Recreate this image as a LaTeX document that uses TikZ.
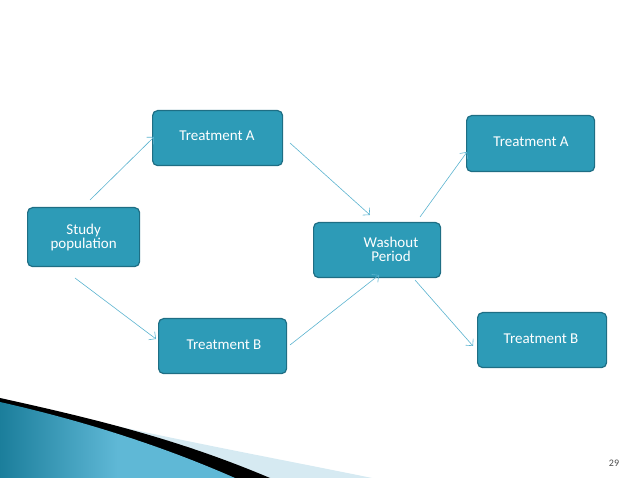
\documentclass[tikz,border=0pt]{standalone}
\usepackage{fontspec}
\usetikzlibrary{arrows.meta}
\setmainfont{Carlito}
\begin{document}
\begin{tikzpicture}[x=1pt,y=-1pt,
 box/.style={draw=boxedge,line width=1.2pt,fill=boxfill,rounded corners=5pt,text=white,font=\fontsize{15}{16}\selectfont,align=center,anchor=north west},
 conn/.style={draw=arrowc,line width=0.6pt,-{Straight Barb[length=5pt]}}]
\definecolor{boxfill}{HTML}{2D9BB7}
\definecolor{boxedge}{HTML}{1E6E84}
\definecolor{arrowc}{HTML}{5BB3CF}
\definecolor{teal}{HTML}{1B7E9B}
\definecolor{lteal}{HTML}{5FB8D6}
\definecolor{pale}{HTML}{D6EAF2}
\useasboundingbox (0,0) rectangle (638,478);
% bottom decoration
\fill[pale] (0,398) .. controls (120,430) and (260,455) .. (372,478) -- (0,478) -- cycle;
\fill[black] (0,398) .. controls (100,420) and (180,440) .. (270,478) -- (0,478) -- cycle;
\shade[left color=teal,right color=lteal,middle color=lteal] (0,402) .. controls (80,420) and (160,445) .. (235,478) -- (0,478) -- cycle;
% boxes
\node[box,minimum width=112pt,minimum height=59pt] (sp) at (27,207) {Study\\[-2pt]population};
\node[box,minimum width=130pt,minimum height=55pt] (ta1) at (152,110) {};
\node[text=white,font=\fontsize{15}{16}\selectfont] (ta1t) at (217,136) {Treatment A};
\node[box,minimum width=128pt,minimum height=55pt] (tb1) at (158,318) {};
\node[text=white,font=\fontsize{15}{16}\selectfont] (tb1t) at (224,345) {Treatment B};
\node[box,minimum width=127pt,minimum height=55pt] (wp) at (313,222) {};
\node[text=white,font=\fontsize{15}{16}\selectfont,align=center] (wpt) at (391,249) {Washout\\[-2pt]Period};
\node[box,minimum width=128pt,minimum height=56pt] (ta2) at (466,115) {};
\node[text=white,font=\fontsize{15}{16}\selectfont] (ta2t) at (531,142) {Treatment A};
\node[box,minimum width=129pt,minimum height=55pt] (tb2) at (477,312) {};
\node[text=white,font=\fontsize{15}{16}\selectfont] (tb2t) at (541,339) {Treatment B};
% connector endpoints
\coordinate (a1) at (90,200); \coordinate (a2) at (154,137);
\coordinate (b1) at (75,278); \coordinate (b2) at (156,339);
\coordinate (c1) at (290,143); \coordinate (c2) at (370,215);
\coordinate (d1) at (290,345); \coordinate (d2) at (379,275);
\coordinate (e1) at (420,217); \coordinate (e2) at (467,152);
\coordinate (f1) at (415,280); \coordinate (f2) at (473,346);
\draw[conn] (a1) -- (a2);
\draw[conn] (b1) -- (b2);
\draw[conn] (c1) -- (c2);
\draw[conn] (d1) -- (d2);
\draw[conn] (e1) -- (e2);
\draw[conn] (f1) -- (f2);
\node[font=\fontsize{10}{12}\selectfont,text=black!70] (pg) at (614,463) {29};
\end{tikzpicture}
\end{document}
